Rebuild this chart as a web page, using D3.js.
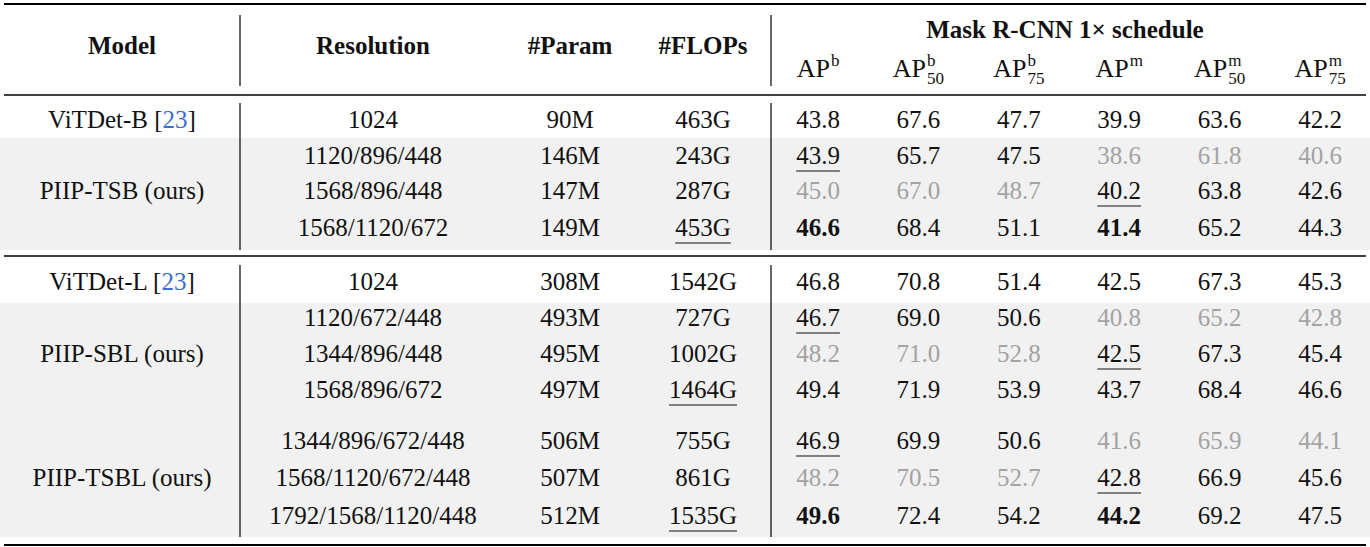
<!DOCTYPE html><html><head><meta charset="utf-8"><script src="https://cdn.jsdelivr.net/npm/d3@7"></script>
<style>body{margin:0;background:#fff}text{font-family:"Liberation Serif","Times New Roman",serif;font-size:25px;fill:#111}</style></head><body><svg id="c" width="1370" height="547"></svg>
<script>
const models=["ViTDet-B","PIIP-TSB (ours)","ViTDet-L","PIIP-SBL (ours)","PIIP-TSBL (ours)"];
const resolutions=["1024","1120/896/448","1568/896/448","1568/1120/672","1024","1120/672/448","1344/896/448","1568/896/672","1344/896/672/448","1568/1120/672/448","1792/1568/1120/448"];
const params=["90M","146M","147M","149M","308M","493M","495M","497M","506M","507M","512M"];
const flops=["463G","243G","287G","453G","1542G","727G","1002G","1464G","755G","861G","1535G"];
const apValues=[
[43.8,67.6,47.7,39.9,63.6,42.2],
[43.9,65.7,47.5,38.6,61.8,40.6],
[45.0,67.0,48.7,40.2,63.8,42.6],
[46.6,68.4,51.1,41.4,65.2,44.3],
[46.8,70.8,51.4,42.5,67.3,45.3],
[46.7,69.0,50.6,40.8,65.2,42.8],
[48.2,71.0,52.8,42.5,67.3,45.4],
[49.4,71.9,53.9,43.7,68.4,46.6],
[46.9,69.9,50.6,41.6,65.9,44.1],
[48.2,70.5,52.7,42.8,66.9,45.6],
[49.6,72.4,54.2,44.2,69.2,47.5]];
// styles: u=underline b=bold g=gray, '.'=plain ; index 0 = FLOPs, then 6 AP cols
const styles=[".......",".u..ggg",".gggu..","ub..b..",".......",".u..ggg",".gggu..","u......",".u..ggg",".gggu..","ub..b.."];
const rowY=[122,158,193,230,284,320,356,392,443,480,518];
const modelRows=[[0],[1,2,3],[4],[5,6,7],[8,9,10]];
const apHeads=[["b",""],["b","50"],["b","75"],["m",""],["m","50"],["m","75"]];

const svg=d3.select("#c");
const xAP=d3.scalePoint().domain(d3.range(6)).range([818,1320]);
const xFix={model:122,res:373,param:570,flops:703};
[[138,250],[303,537]].forEach(([a,b])=>svg.append("rect").attr("x",0).attr("width",1370).attr("y",a).attr("height",b-a).attr("fill","#f1f1f1"));
const hl=(y,w)=>svg.append("line").attr("x1",4).attr("x2",1366).attr("y1",y).attr("y2",y).attr("stroke","#000").attr("stroke-width",w);
hl(4,2.2);hl(95,1.4);hl(256,1.4);hl(545,2.2);
const vl=(x,a,b)=>svg.append("line").attr("x1",x).attr("x2",x).attr("y1",a).attr("y2",b).attr("stroke","#000").attr("stroke-width",1.2);
[240,771].forEach(x=>{vl(x,15,86);vl(x,103,250);vl(x,265,537);});
function cell(x,y,t,st){
  const el=svg.append("text").attr("x",x).attr("y",y).attr("text-anchor","middle").attr("dominant-baseline","middle").text(t);
  if(st==="b")el.attr("font-weight","bold");
  if(st==="g")el.style("fill","#a3a3a3");
  if(st==="u"){const w=el.node().getComputedTextLength();svg.append("line").attr("x1",x-w/2).attr("x2",x+w/2).attr("y1",y+13).attr("y2",y+13).attr("stroke","#111").attr("stroke-width",1.2);}
  return el;
}
const hb=(x,y,t)=>svg.append("text").attr("x",x).attr("y",y).attr("text-anchor","middle").attr("dominant-baseline","middle").attr("font-weight","bold").text(t);
hb(xFix.model,48,"Model");hb(xFix.res,48,"Resolution");hb(xFix.param,48,"#Param");hb(xFix.flops,48,"#FLOPs");
hb(1065,32,"Mask R-CNN 1× schedule");
apHeads.forEach(([sup,sub],i)=>{
  const g=svg.append("g");
  const ap=g.append("text").attr("x",0).attr("y",77).style("font-size","26px").text("AP");
  const w=ap.node().getComputedTextLength();
  const s1=g.append("text").attr("x",w+1).attr("y",66).style("font-size","17px").text(sup);
  let w2=s1.node().getComputedTextLength();
  if(sub){const s2=g.append("text").attr("x",w+1).attr("y",84).style("font-size","17px").text(sub);w2=Math.max(w2,s2.node().getComputedTextLength());}
  g.attr("transform",`translate(${xAP(i)-(w+1+w2)/2},0)`);
});
modelRows.forEach((rs,i)=>{
  const y=d3.mean(rs,r=>rowY[r]);
  const t=svg.append("text").attr("x",xFix.model).attr("y",y).attr("text-anchor","middle").attr("dominant-baseline","middle");
  const m=models[i];
  if(m.startsWith("ViTDet")){t.append("tspan").text(m+" [");t.append("tspan").style("fill","#3a6fcf").text("23");t.append("tspan").text("]");}
  else t.text(m);
});
resolutions.forEach((r,i)=>{
  const y=rowY[i];
  cell(xFix.res,y,r,".");cell(xFix.param,y,params[i],".");cell(xFix.flops,y,flops[i],styles[i][0]);
  apValues[i].forEach((v,j)=>cell(xAP(j),y,v.toFixed(1),styles[i][j+1]));
});
</script></body></html>
